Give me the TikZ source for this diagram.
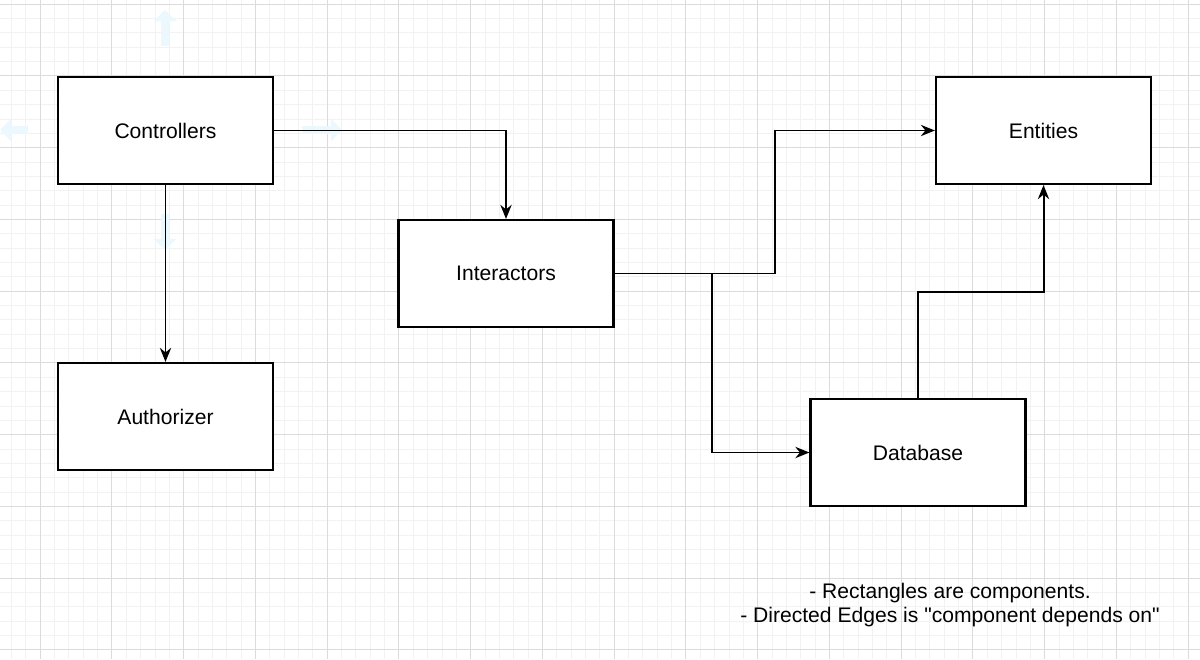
\documentclass[tikz,border=0pt]{standalone}
\usepackage{fontspec}
\setmainfont{Liberation Sans}[Ligatures=TeXOff]
\usetikzlibrary{arrows.meta}

\begin{document}
\begin{tikzpicture}[x=0.025cm, y=-0.025cm,
  comp/.style={draw, line width=1.5pt, fill=white, minimum width=5.375cm, minimum height=2.675cm, inner sep=0pt, font=\fontsize{15}{17}\selectfont},
  dep/.style={line width=1.4pt, -{Stealth[length=10pt, width=8pt]}},
  hint/.style={line width=6pt, draw=cyan!8, -{Triangle[length=8pt, width=16pt]}}]
\useasboundingbox (0,0) rectangle (1200,659);
% grid
\foreach \i in {-2,...,82}{
  \draw[gray!10, line width=0.4pt] ({40+14.35*\i},0) -- ({40+14.35*\i},659);
}
\foreach \i in {-1,...,46}{
  \draw[gray!10, line width=0.4pt] (0,{4+14.35*\i}) -- (1200,{4+14.35*\i});
}
\foreach \i in {-1,...,16}{
  \draw[gray!28, line width=0.6pt] ({40+71.75*\i},0) -- ({40+71.75*\i},659);
}
\foreach \i in {0,...,9}{
  \draw[gray!28, line width=0.6pt] (0,{4+71.75*\i}) -- (1200,{4+71.75*\i});
}
% hover arrows
\draw[hint] (165,46) -- (165,10);
\draw[hint] (165,214) -- (165,250);
\draw[hint] (28,130) -- (0,130);
\draw[hint] (302,130) -- (342,130);
% components
\node[comp] (ctrl) at (165.5,130.5) {Controllers};
\node[comp] (auth) at (165.5,416.5) {Authorizer};
\node[comp] (inter) at (506,273.5) {Interactors};
\node[comp] (ent) at (1043.5,130.5) {Entities};
\node[comp] (db) at (918,452.5) {Database};
\coordinate (split) at (712,273.5);
% dependencies
\draw[dep] (ctrl.east) -| (inter.north);
\draw[dep] (ctrl.south) -- (auth.north);
\draw[dep] (inter.east) -- (split) -- (775,273.5) |- (ent.west);
\draw[dep] (split) |- (db.west);
\draw[dep] (db.north) -- (918,292) -| (ent.south);
% legend
\node[font=\fontsize{15}{17}\selectfont, align=center] (legend) at (950,605)
  {- Rectangles are components.\\- Directed Edges is "component depends on"};
\end{tikzpicture}
\end{document}
